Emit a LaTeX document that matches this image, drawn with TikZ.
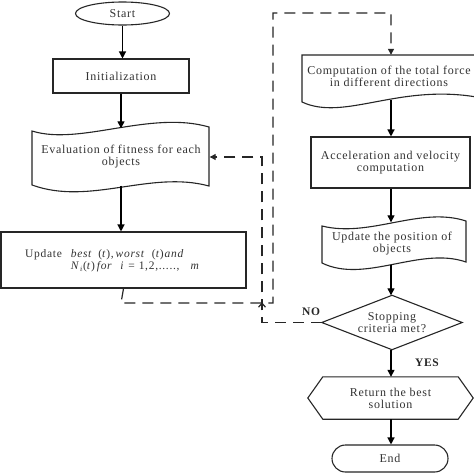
\documentclass[tikz,border=0pt]{standalone}
\usepackage{fontspec}
\setmainfont{Liberation Serif}[LetterSpace=6]
\usetikzlibrary{arrows.meta,decorations.markings,shapes.geometric}
\begin{document}
\begin{tikzpicture}[x=1pt,y=-1pt,
  lw/.style={line width=1.1pt, draw=black!85},
  txt/.style={font=\fontsize{12}{12}\selectfont, text=black!80, align=center, inner sep=0pt},
  rbox/.style={txt, lw, rectangle},
  arr/.style={line width=1.3pt, draw=black, -{Triangle[length=7pt,width=7pt]}},
  dsh/.style={line width=1.2pt, draw=black!85, dash pattern=on 11pt off 7pt},
  dtip/.style={-{Triangle[length=6pt,width=6pt]}},
  lbl/.style={font=\fontsize{11.5}{11.5}\selectfont\bfseries, text=black!85, inner sep=0pt}]
\useasboundingbox (0,0) rectangle (474,474);
\clip (0,0) rectangle (474,474);
\fill[white] (0,0) rectangle (474,474);

% left column
\node[txt, ellipse, lw, minimum width=94pt, minimum height=23pt] (start) at (122.5,13.5) {Start};
\node[rbox, minimum width=136pt, minimum height=34pt] (init) at (121,76) {Initialization};
\node[txt, minimum width=177pt, minimum height=57pt] (eval) at (121,157) {Evaluation of fitness for each\\objects};
\draw[lw] (32,131) .. controls (80,146) and (150,110) .. (209,127) -- (209,186)
  .. controls (150,170) and (90,206) .. (32,185) -- cycle;
\node[rbox, minimum width=245pt, minimum height=56pt] (upd) at (123.5,260) {};
\node[txt, font=\fontsize{11.5}{12}\selectfont, anchor=west] (updtxt) at (25,261.5)
  {\begin{tabular}{@{}l@{\hspace{9pt}}l@{}}
   Update & \textit{best}\hspace{6pt}(\textit{t}),\hspace{2pt}\textit{worst}\hspace{7pt}(\textit{t})\hspace{1pt}\textit{and}\\
          & \textit{N}$_{i}$(\textit{t})\hspace{2pt}\textit{for}\hspace{8pt}\textit{i}\hspace{4pt}=\hspace{4pt}1,2,.....,\hspace{11pt}\textit{m}
   \end{tabular}};

% right column
\node[txt, minimum width=180pt, minimum height=45pt] (comp) at (391,77.5) {};
\node[txt] (comptxt) at (389,76) {Computation of the total force\\in different directions};
\draw[lw] (482,55) -- (302,55) -- (302,102) .. controls (345,122) and (400,82) .. (482,98);
\node[rbox, minimum width=159pt, minimum height=51pt] (acc) at (390.5,162.5) {Acceleration and velocity\\computation};
\node[txt, minimum width=144pt, minimum height=42pt] (upos) at (392,243.5) {Update the position of\\objects};
\draw[lw] (322,226) .. controls (370,238) and (420,206) .. (466,221) -- (466,262)
  .. controls (420,246) and (365,284) .. (322,263) -- cycle;
\node[txt, minimum width=140pt, minimum height=54pt] (stop) at (392,322.5) {Stopping\\criteria met?};
\draw[lw] (stop.west) -- (stop.north) -- (stop.east) -- (stop.south) -- cycle;
\node[txt, minimum width=165pt, minimum height=42pt] (ret) at (390.5,398) {Return the best\\solution};
\draw[lw] (ret.west) -- ([xshift=15pt]ret.north west) -- ([xshift=-15pt]ret.north east) -- (ret.east)
  -- ([xshift=-15pt]ret.south east) -- ([xshift=15pt]ret.south west) -- cycle;
\node[rbox, rounded corners=13.5pt, minimum width=116pt, minimum height=27pt] (end) at (390,458.5) {End};

% solid connectors
\draw[arr] (start.south) -- (start.south |- init.north);
\draw[arr] (init.south) -- (init.south |- eval.north);
\draw[arr] (eval.south) -- (eval.south |- upd.north);
\draw[arr] (comp.south) -- (comp.south |- acc.north);
\draw[arr] (acc.south -| comp.south) -- (comp.south |- upos.north);
\draw[arr] (upos.south -| comp.south) -- (comp.south |- stop.north);
\draw[arr] (stop.south -| comp.south) -- (comp.south |- ret.north);
\draw[arr] (ret.south -| comp.south) -- (comp.south |- end.north);

% dashed connectors
\coordinate (jtop) at (273,13);
\coordinate (jbot) at (121,303);
\coordinate (jno) at (262,322.5);
\draw[dsh, dtip] (upd.south) -- (jbot) -| (jtop) -| (comp.north);
\draw[dsh, dtip, postaction={decorate, decoration={markings,
    mark=at position 80pt with {\arrow[solid]{Straight Barb[length=4pt,width=7pt]}}}}]
  (stop.west) -- (jno) |- (eval.east);

% labels
\node[lbl] (no) at (311,312) {NO};
\node[lbl] (yes) at (427,362.5) {YES};
\end{tikzpicture}
\end{document}
